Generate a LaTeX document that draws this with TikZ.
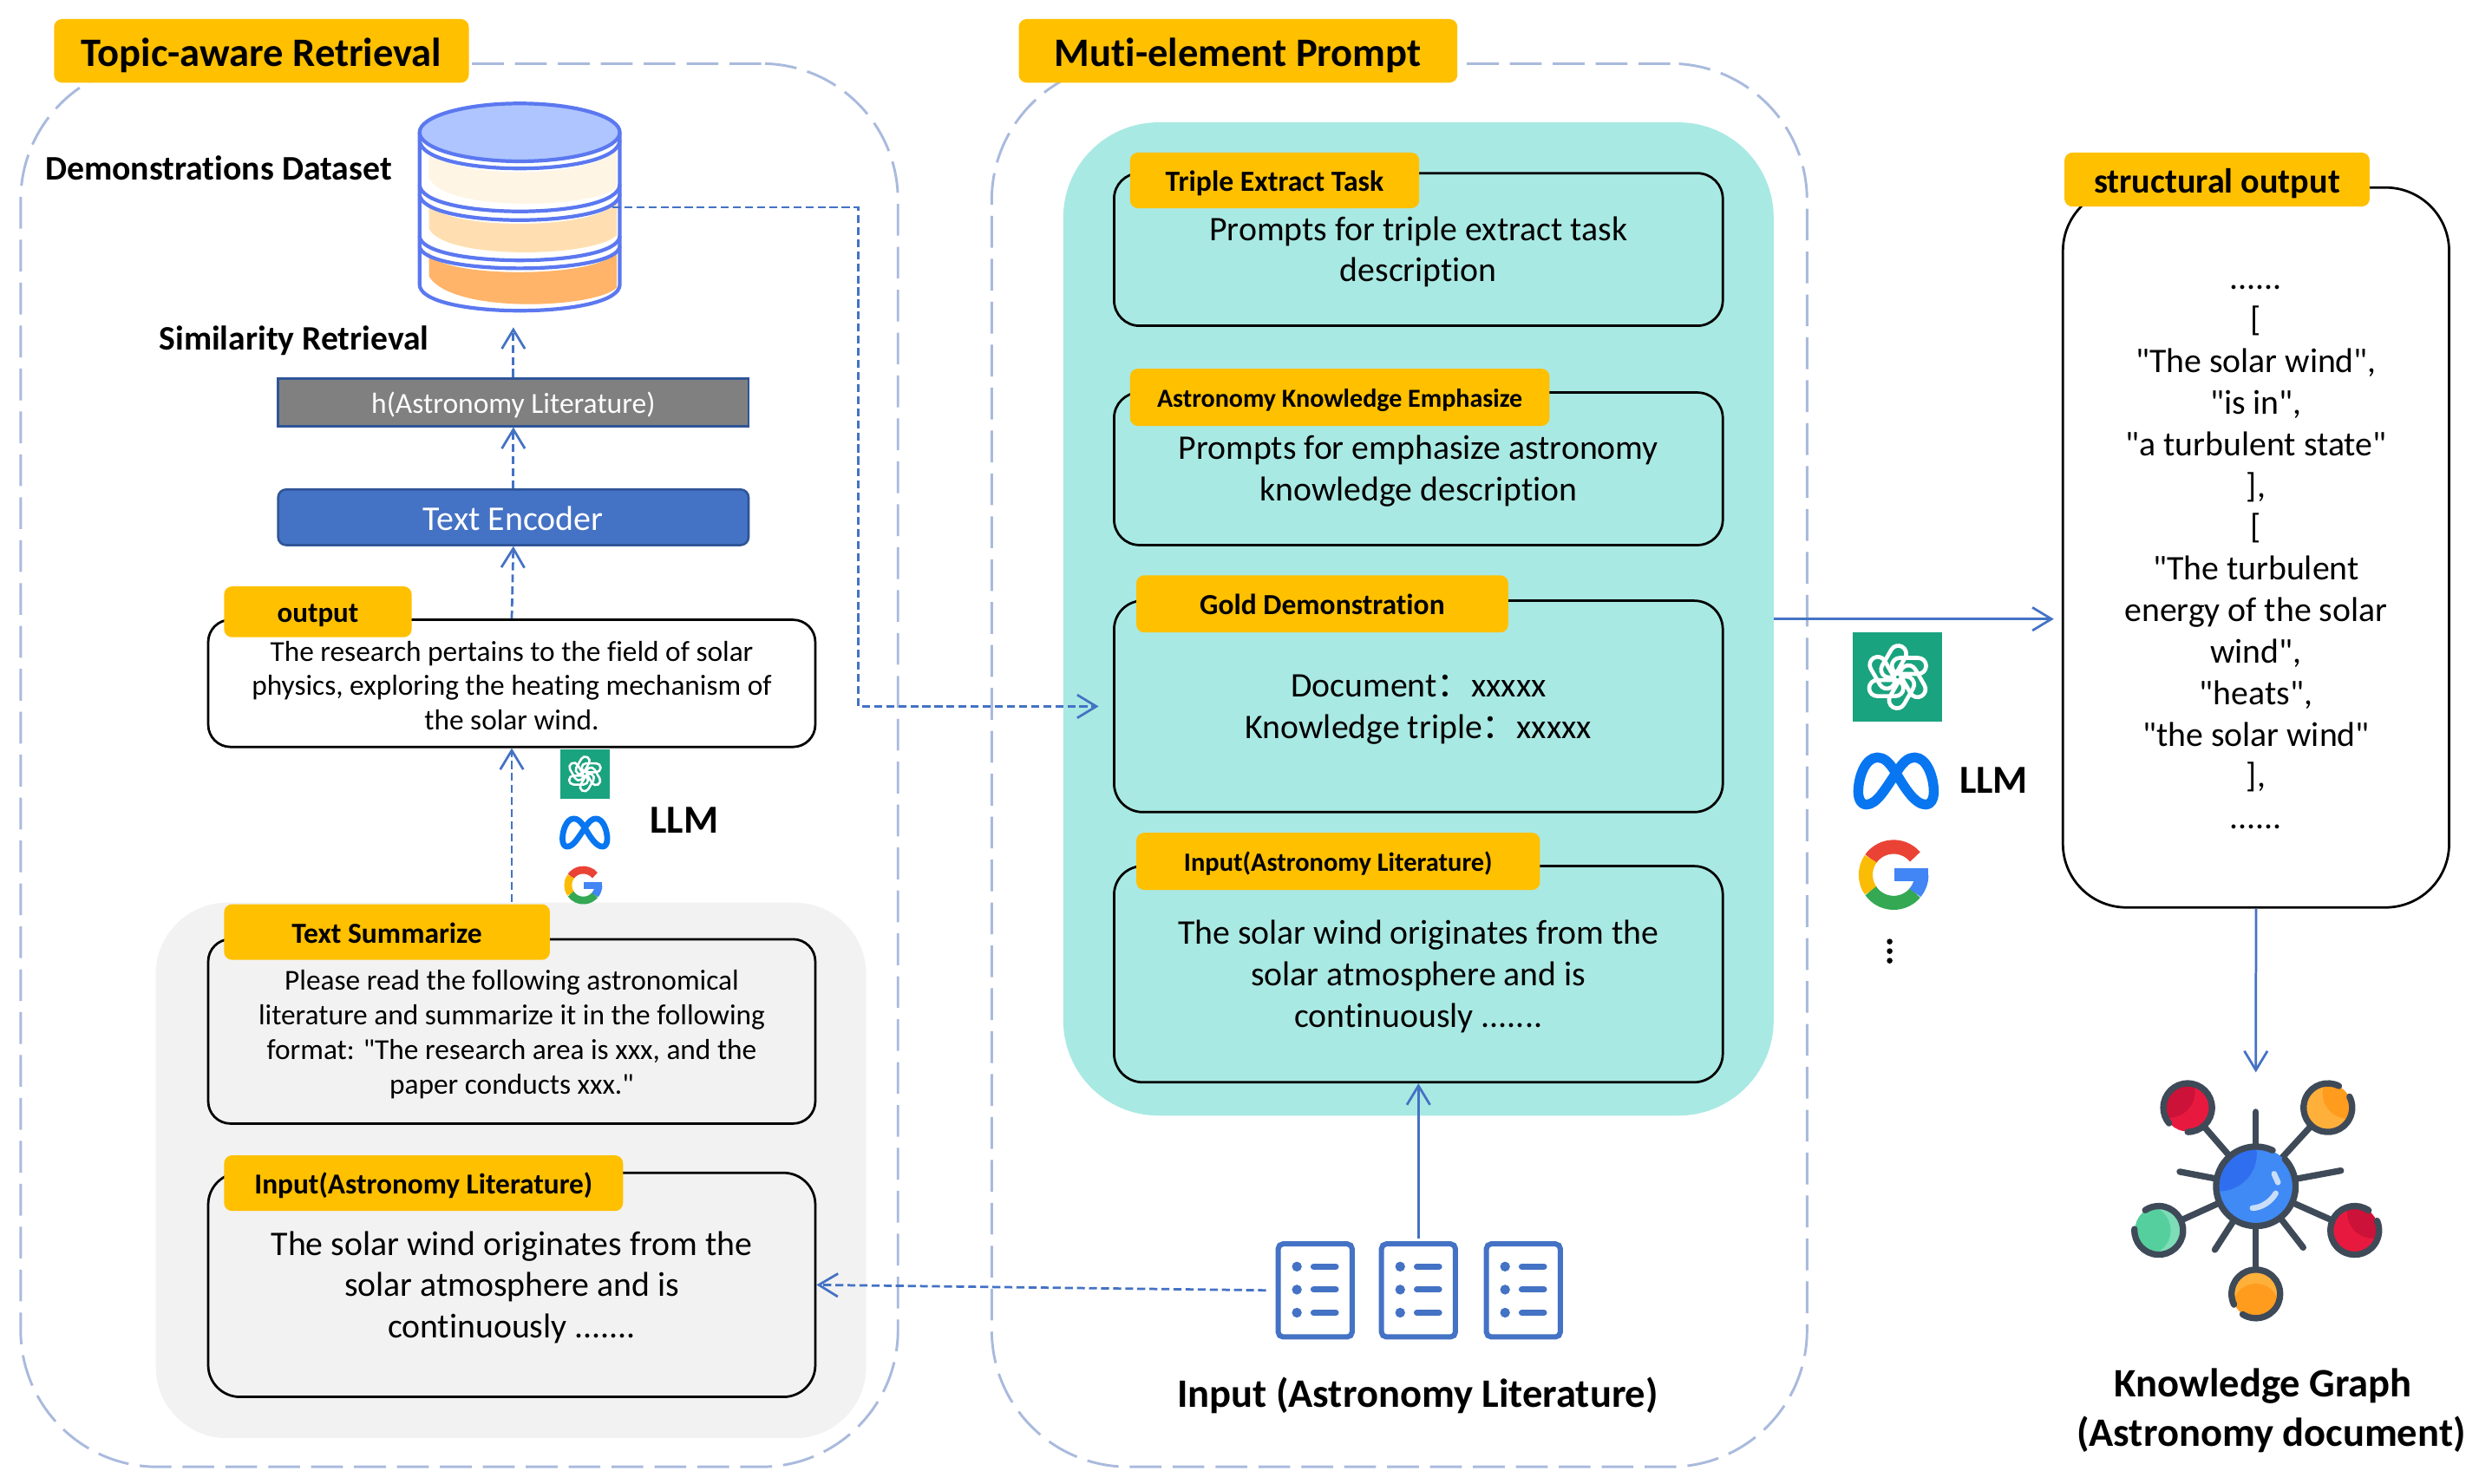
\documentclass[tikz,border=0pt]{standalone}
\usepackage{fontspec}
\setmainfont{Carlito}[Ligatures={TeXOff,CommonOff}]
\newfontfamily\cjk{Noto Sans CJK SC}
\usetikzlibrary{arrows.meta,calc}
\definecolor{gold}{HTML}{FFC000}
\definecolor{dashc}{HTML}{A9BADD}
\definecolor{flowc}{HTML}{4472C4}
\definecolor{tealbg}{HTML}{A9E9E3}
\definecolor{graybg}{HTML}{F2F2F2}
\definecolor{cyl}{HTML}{5B78F0}
\definecolor{kgdark}{HTML}{3F4A58}
\definecolor{kgred}{HTML}{E8193F}
\definecolor{kgredd}{HTML}{CC1238}
\definecolor{kgor}{HTML}{FFB03A}
\definecolor{kgord}{HTML}{FF9C1E}
\definecolor{kggr}{HTML}{56CF9E}
\definecolor{kggrl}{HTML}{7CDDB6}
\definecolor{kgbl}{HTML}{3F8AF5}
\definecolor{kgbld}{HTML}{2F6FEF}
\definecolor{kghi}{HTML}{C9DEFB}
\newcommand\fsz[2]{\fontsize{#1}{#2}\selectfont}
\newcommand\stA{\rule[-0.25em]{0pt}{1.25em}}
\newcommand\fl[1]{\rule{0pt}{#1pt}}
\tikzset{
 strutted/.style={execute at begin node=\stA,execute at end node=\stA},
 region/.style={draw=dashc,line width=1.6pt,dash pattern=on 20pt off 7pt,rounded corners=86pt,inner sep=0},
 tag/.style={fill=gold,rounded corners=5pt,inner sep=0,text=black,font=\bfseries,strutted},
 body/.style={draw=black,line width=1.5pt,inner sep=0,align=center,text=black},
 flow/.style={draw=flowc,line width=1.5pt,-{Straight Barb[length=12pt,width=14.5pt,line width=1.5pt]}},
 flowd/.style={flow,dash pattern=on 5pt off 2.6pt},
 docbox/.style={draw=flowc,line width=3.3pt,rounded corners=3pt,minimum width=46.5pt,minimum height=58.5pt,inner sep=0},
 plain/.style={inner sep=0,text=black,strutted},
}
\newcommand\gptlogo[3]{% cx cy half size
 \begin{scope}[shift={(#1,#2)},x=#3pt,y=#3pt]
  \fill[fill={rgb,255:red,26;green,163;blue,127}] (-1,-1) rectangle (1,1);
  \foreach \a in {0,60,...,300}
   \draw[white,line width=#3*0.09pt,rotate=\a,rounded corners=#3*0.18pt] (-0.13,0.07) rectangle (0.64,0.43);
 \end{scope}}
\newcommand\metalogo[3]{% left top width
 \begin{scope}[shift={(#1,#2)},x=#3pt,y=-#3pt]
  \draw[line width=#3*0.115pt,draw={rgb,255:red,8;green,118;blue,240},line join=round]
   (.5,.25) .. controls (.42,.12) and (.36,.067) .. (.283,.067)
   .. controls (.14,.067) and (.06,.30) .. (.06,.467)
   .. controls (.06,.56) and (.10,.617) .. (.15,.617)
   .. controls (.28,.617) and (.38,.42) .. (.5,.25)
   .. controls (.58,.12) and (.64,.067) .. (.717,.067)
   .. controls (.86,.067) and (.94,.30) .. (.94,.467)
   .. controls (.94,.56) and (.90,.617) .. (.85,.617)
   .. controls (.72,.617) and (.60,.42) .. (.5,.25) -- cycle;
 \end{scope}}
\newcommand\glogo[3]{% cx cy radius
 \begin{scope}[shift={(#1,#2)},x=1pt,y=1pt,scale=#3]
  \draw[line width=#3*0.40pt,draw={rgb,255:red,234;green,67;blue,53}] (40:0.8) arc[start angle=40,end angle=145,radius=0.8];
  \draw[line width=#3*0.40pt,draw={rgb,255:red,251;green,188;blue,5}] (145:0.8) arc[start angle=145,end angle=215,radius=0.8];
  \draw[line width=#3*0.40pt,draw={rgb,255:red,52;green,168;blue,83}] (215:0.8) arc[start angle=215,end angle=320,radius=0.8];
  \draw[line width=#3*0.40pt,draw={rgb,255:red,66;green,133;blue,244}] (320:0.8) arc[start angle=320,end angle=360,radius=0.8];
  \fill[fill={rgb,255:red,66;green,133;blue,244}] (0.03,-0.18) rectangle (1.0,0.18);
 \end{scope}}
\newcommand\docicon[2]{% name, centre x
 \node[docbox] (#1) at (#2,812) {};
 \foreach \d in {-15,-0.5,14}{
  \fill[flowc] (#2-11.5,812+\d) circle[radius=3.1pt];
  \draw[flowc,line width=3.8pt,line cap=round] (#2-1,812+\d) -- (#2+13,812+\d);}}
% x y base shade dx dy r radius gapA gapB
\newcommand\sat[9]{%
 \begin{scope}[shift={(#1,#2)},x=1pt,y=1pt]
  \fill[#3] (0,0) circle[radius=#8*0.98];
  \begin{scope}\clip (0,0) circle[radius=#8*0.98];
   \fill[#4] #5 circle[radius=#6];
  \end{scope}
  \draw[kgdark,line width=4pt,line cap=round] (#9:#8) arc[start angle=#9,delta angle=#7,radius=#8];
 \end{scope}}
\begin{document}
\begin{tikzpicture}[x=1pt,y=-1pt]
\useasboundingbox (0,0) rectangle (1568,933.3);
% ---- regions
\node[region,minimum width=552pt,minimum height=883pt] (left) at (289,481.5) {};
\node[region,minimum width=513pt,minimum height=883pt] (mid) at (880.5,481.5) {};
\node[fill=graybg,rounded corners=45pt,minimum width=447pt,minimum height=337pt,inner sep=0] (gray) at (321.5,736.5) {};
\node[fill=tealbg,rounded corners=60pt,minimum width=447pt,minimum height=625pt,inner sep=0] (teal) at (892.5,389.5) {};
% ---- database
\node[minimum width=126pt,minimum height=132pt,inner sep=0] (db) at (327,130.5) {};
\fill[white] (264,83) -- (264,179) .. controls (264,201) and (390,201) .. (390,179) -- (390,83) -- cycle;
\fill[fill={rgb,255:red,255;green,245;blue,228}] (270,92) .. controls (270,114) and (388,114) .. (388,90) -- (388,118) .. controls (375,131) and (280,134) .. (270,112) -- cycle;
\fill[fill={rgb,255:red,255;green,223;blue,178}] (270,126) .. controls (270,146) and (388,146) .. (388,124) -- (388,148) .. controls (375,162) and (280,164) .. (270,144) -- cycle;
\fill[fill={rgb,255:red,255;green,180;blue,105}] (270,158) .. controls (270,176) and (388,176) .. (388,156) -- (388,181) .. controls (375,194) and (285,198) .. (270,174) -- cycle;
\begin{scope}[cyl,line width=2.3pt]
 \fill[fill={rgb,255:red,174;green,197;blue,255}] (327,83.3) ellipse[x radius=63pt,y radius=18.2pt];
 \draw (327,83.3) ellipse[x radius=63pt,y radius=18.2pt];
 \draw (264,83.3) -- (264,179) .. controls (264,201) and (390,201) .. (390,179) -- (390,83.3);
 \draw (264,88) .. controls (264,112) and (390,112) .. (390,88);
 \draw (264,116) .. controls (264,138.7) and (390,138.7) .. (390,116);
 \draw (264,122) .. controls (264,144) and (390,144) .. (390,122);
 \draw (264,148.3) .. controls (264,169) and (390,169) .. (390,148.3);
 \draw (264,154.6) .. controls (264,173.6) and (390,173.6) .. (390,154.6);
\end{scope}
% ---- left column
\node[strutted,draw={rgb,255:red,47;green,85;blue,151},line width=1.6pt,fill={rgb,255:red,128;green,128;blue,128},minimum width=296pt,minimum height=30pt,inner sep=0,text=white,font=\fsz{18.3}{22}] (hash) at (323,253) {h(Astronomy Literature)};
\node[strutted,draw={rgb,255:red,47;green,85;blue,151},line width=1.4pt,fill=flowc,rounded corners=5pt,minimum width=296pt,minimum height=35pt,inner sep=0,text=white,font=\fsz{21.8}{25}] (enc) at (323,325.5) {Text Encoder};
\node[body,fill=white,rounded corners=14pt,minimum width=382pt,minimum height=80pt,font=\fsz{18.2}{21.6}] (out) at (322,430) {\fl{15.4}The research pertains to the field of solar\\physics, exploring the heating mechanism of\\the solar wind.};
\node[body,rounded corners=14pt,minimum width=382pt,minimum height=116pt,font=\fsz{18.2}{21.7}] (summ) at (322,649) {\fl{16.4}Please read the following astronomical\\literature and summarize it in the following\\format: "The research area is xxx, and the\\paper conducts xxx."};
\node[body,rounded corners=20pt,minimum width=382pt,minimum height=141pt,font=\fsz{21.7}{26}] (lit) at (322,808.5) {\fl{18}The solar wind originates from the\\solar atmosphere and is\\continuously .......};
% ---- middle column
\node[body,rounded corners=16pt,minimum width=383pt,minimum height=96pt,font=\fsz{21.7}{26}] (b1) at (892.5,157) {\fl{18}Prompts for triple extract task\\description};
\node[body,rounded corners=16pt,minimum width=383pt,minimum height=96pt,font=\fsz{21.7}{26}] (b2) at (892.5,295) {\fl{18}Prompts for emphasize astronomy\\knowledge description};
\node[body,rounded corners=18pt,minimum width=383pt,minimum height=133pt,font=\fsz{21.7}{26}] (b3) at (892.5,444.5) {\fl{18}Document{\cjk ：}xxxxx\\Knowledge triple{\cjk ：}xxxxx};
\node[body,rounded corners=18pt,minimum width=383pt,minimum height=136pt,font=\fsz{21.7}{26}] (b4) at (892.5,613) {\fl{18}The solar wind originates from the\\solar atmosphere and is\\continuously .......};
\node[body,fill=white,rounded corners=40pt,minimum width=243pt,minimum height=453pt,font=\fsz{21.7}{26.1}] (st) at (1419.5,344.5) {\fl{15}......\\{[}\\"The solar wind",\\"is in",\\"a turbulent state"\\{]},\\{[}\\"The turbulent\\energy of the solar\\wind",\\"heats",\\"the solar wind"\\{]},\\......};
% ---- docs
\docicon{d1}{827.5}
\docicon{d2}{892.5}
\docicon{d3}{958.5}
% ---- KG icon
\coordinate (kgc) at (1419.4,746.5);
\node[minimum width=160pt,minimum height=150pt,inner sep=0] (kg) at (1419.4,753) {};
\begin{scope}[kgdark,line width=4pt,line cap=round]
 \draw (kgc) -- (1376.5,697); \draw (kgc) -- (1464.7,697); \draw (kgc) -- (1358.3,774.2);
 \draw (kgc) -- (1481.6,774.2); \draw (kgc) -- (1419.4,814.2);
 \draw (kgc) -- (1419.4,699.7); \draw (kgc) -- (1371.5,737.3); \draw (kgc) -- (1472.9,736.6);
 \draw (kgc) -- (1393.6,786.4); \draw (kgc) -- (1449.2,785);
\end{scope}
\sat{1376.5}{697}{kgred}{kgredd}{(-11.8,10)}{16.4}{310}{15.3}{270}
\sat{1464.7}{697}{kgor}{kgord}{(12.7,9)}{16}{324}{15.3}{63}
\sat{1358.3}{774.2}{kggrl}{kggr}{(-8,0)}{15.5}{307}{15.3}{177}
\sat{1481.6}{774.2}{kgred}{kgredd}{(11.3,11)}{16}{328}{15.3}{55}
\sat{1419.4}{814.2}{kgor}{kgord}{(0,-8)}{14.5}{329}{15.3}{237}
\sat{1419.4}{746.5}{kgbl}{kgbld}{(-23,20.5)}{23.6}{338}{25}{65}
\draw[kghi,line width=3.6pt,line cap=round] (1417.3,760.2) .. controls (1423,760) and (1429,756) .. (1431.9,750.9);
\draw[kghi,line width=3.6pt,line cap=round] (1430.9,738.6) -- (1433.3,744);
% ---- connectors
\draw[flowd] (hash.north) -- (323,206);
\draw[flowd] (enc.north) -- (hash.south);
\draw[flowd] (out.north) -- (enc.south);
\draw[flowd] (summ.north) -- (out.south);
\coordinate (turn) at (540,300);
\draw[flowd,shorten >=9pt,shorten <=-5pt] (db.east) -| (turn) |- (b3.west);
\draw[flowd,shorten <=6pt] (d1.west) -- (lit.east);
\draw[flow,shorten <=1.5pt] (d2.north) -- (b4.south);
\draw[flow,shorten >=5pt] (teal.east) -- (teal.east -| st.west);
\draw[flow,shorten >=3pt] (st.south) -- (kg.north);
% ---- tags
\node[tag,minimum width=261pt,minimum height=40pt,font=\bfseries\fsz{25.4}{29}] (t1) at (164.5,32) {Topic-aware Retrieval};
\node[tag,minimum width=276pt,minimum height=40pt,font=\bfseries\fsz{25.4}{29}] (t2) at (779,32) {Muti-element Prompt};
\node[tag,minimum width=118pt,minimum height=32pt,font=\bfseries\fsz{18}{20}] (t3) at (200,385) {output};
\node[tag,minimum width=205pt,minimum height=35pt,font=\bfseries\fsz{18.3}{20}] (t4) at (243.5,586.5) {Text Summarize};
\node[tag,minimum width=251pt,minimum height=35pt,font=\bfseries\fsz{18.2}{20}] (t5) at (266.5,744.5) {Input(Astronomy Literature)};
\node[tag,minimum width=182pt,minimum height=35pt,font=\bfseries\fsz{18.4}{20}] (t6) at (802,113.5) {Triple Extract Task};
\node[tag,minimum width=264pt,minimum height=36pt,font=\bfseries\fsz{16.4}{19}] (t7) at (843,250) {Astronomy Knowledge Emphasize};
\node[tag,minimum width=234pt,minimum height=36pt,font=\bfseries\fsz{18.3}{20}] (t8) at (832,380) {Gold Demonstration};
\node[tag,minimum width=254pt,minimum height=36pt,font=\bfseries\fsz{16.6}{19}] (t9) at (842,542) {Input(Astronomy Literature)};
\node[tag,minimum width=192pt,minimum height=34pt,font=\bfseries\fsz{21.9}{25}] (t10) at (1395,113) {structural output};
% ---- free labels
\node[plain,font=\bfseries\fsz{21.7}{25}] (l1) at (137.5,105) {Demonstrations Dataset};
\node[plain,font=\bfseries\fsz{21.6}{25}] (l2) at (185,212) {Similarity Retrieval};
\node[plain,font=\bfseries\fsz{25}{29}] (l3) at (430.5,515) {LLM};
\node[plain,font=\bfseries\fsz{25}{29}] (l4) at (1254.5,489.5) {LLM};
\node[plain,font=\bfseries\fsz{25.4}{29}] (l5) at (892,876) {Input (Astronomy Literature)};
\node[inner sep=0,text=black,font=\bfseries\fsz{25.4}{31},align=center] (l6) at (1429,886.5) {\fl{20}Knowledge Graph\hspace*{10pt}\\(Astronomy document)};
% ---- logos
\gptlogo{368}{487}{15.5}
\metalogo{352}{513}{32}
\glogo{367}{557}{12}
\gptlogo{1194}{426}{28}
\metalogo{1166}{473}{54}
\glogo{1191.5}{550.5}{22}
\foreach \yy in {592.5,598.5,604.5}\fill[black] (1189,\yy) circle[radius=1.8pt];
\end{tikzpicture}
\end{document}
